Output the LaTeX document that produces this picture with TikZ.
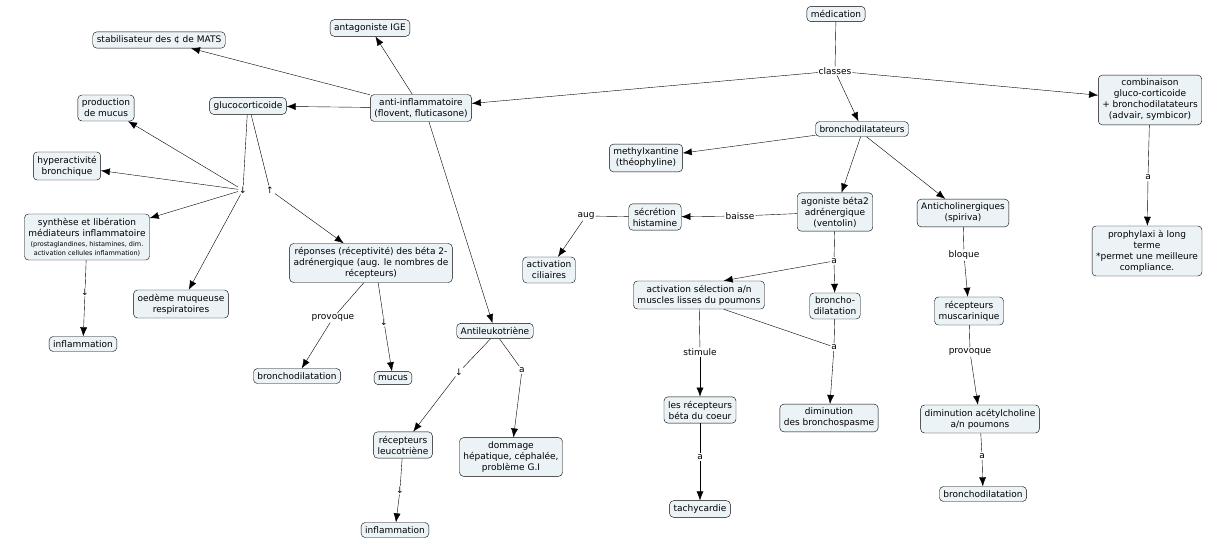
\documentclass[tikz,border=0pt]{standalone}
\usepackage{fontspec}
\setmainfont{DejaVu Sans}
\usetikzlibrary{arrows.meta}
\definecolor{conceptfill}{RGB}{236,243,246}
\tikzset{
  concept/.style={draw,rounded corners=4pt,fill=conceptfill,align=center,font=\fontsize{9}{11}\selectfont,inner sep=4pt},
  link/.style={fill=white,inner sep=1pt,font=\fontsize{9}{11}\selectfont},
  arr/.style={-{Latex[length=9pt,width=7pt]}},
}
\begin{document}
\begin{tikzpicture}[x=1pt,y=-1pt]
\useasboundingbox (0,0) rectangle (1226,546);
% concepts
\node at (159,40) [concept] (mats) {stabilisateur des ¢ de MATS};
\node at (370,28) [concept] (ige) {antagoniste IGE};
\node at (836,14) [concept] (medic) {médication};
\node at (1150,100) [concept] (combi) {combinaison\\gluco-corticoide\\+ bronchodilatateurs\\(advair, symbicor)};
\node at (106,108) [concept] (prodmucus) {production\\de mucus};
\node at (248,106) [concept] (gluco) {glucocorticoide};
\node at (421,108) [concept] (antiinf) {anti-inflammatoire\\(flovent, fluticasone)};
\node at (67,166) [concept] (hyper) {hyperactivité\\bronchique};
\node at (87,237) [concept] (synth) {synthèse et libération\\médiateurs inflammatoire\\[-1pt]{\fontsize{6.5}{8}\selectfont (prostaglandines, histamines, dim.}\\[-2pt]{\fontsize{6.5}{8}\selectfont activation cellules inflammation)}};
\node at (83,344) [concept] (inflA) {inflammation};
\node at (181,304) [concept] (oedeme) {oedème muqueuse\\respiratoires};
\node at (371,263) [concept] (reponses) {réponses (réceptivité) des béta 2-\\adrénergique (aug. le nombres de\\récepteurs)};
\node at (297,376) [concept] (bdA) {bronchodilatation};
\node at (393,378) [concept] (mucus) {mucus};
\node at (495,331) [concept] (antileu) {Antileukotriène};
\node at (403,445) [concept] (recleu) {récepteurs\\leucotriène};
\node at (395,530) [concept] (inflB) {inflammation};
\node at (511,457) [concept] (dommage) {dommage\\hépatique, céphalée,\\problème G.I};
\node at (862,129) [concept] (bronchod) {bronchodilatateurs};
\node at (646,158) [concept] (methyl) {methylxantine\\(théophyline)};
\node at (655,217) [concept] (secret) {sécrétion\\histamine};
\node at (549,270) [concept] (cili) {activation\\ciliaires};
\node at (835,212) [concept] (agon) {agoniste béta2\\adrénergique\\(ventolin)};
\node at (963,213) [concept] (antich) {Anticholinergiques\\(spiriva)};
\node at (699,295) [concept] (activ) {activation sélection a/n\\muscles lisses du poumons};
\node at (835,306) [concept] (bdB) {broncho-\\dilatation};
\node at (969,311) [concept] (muscar) {récepteurs\\muscarinique};
\node at (700,410) [concept] (coeur) {les récepteurs\\béta du coeur};
\node at (829,418) [concept] (spasme) {diminution\\des bronchospasme};
\node at (980,419) [concept] (acetyl) {diminution acétylcholine\\a/n poumons};
\node at (700,509) [concept] (tachy) {tachycardie};
\node at (983,494) [concept] (bdC) {bronchodilatation};
\node at (1147,251) [concept] (prophy) {prophylaxi à long\\terme\\*permet une meilleure\\compliance.};
% linking phrases
\node at (835,71) [link] (lclasses) {classes};
\node at (243,190) [link] (ldownG) {↓};
\node at (270,190) [link] (lupG) {↑};
\node at (85,292) [link] (ldownS) {↓};
\node at (333,318) [link] (lprovR) {provoque};
\node at (384,322) [link] (ldownR) {↓};
\node at (459,372) [link] (ldownL) {↓};
\node at (522,370) [link] (laL) {a};
\node at (400,490) [link] (ldownRL) {↓};
\node at (740,216) [link] (lbaisse) {baisse};
\node at (586,216) [link] (laug) {aug};
\node at (834,261) [link] (laAg) {a};
\node at (700,352) [link] (lstim) {stimule};
\node at (834,347) [link] (laBd) {a};
\node at (700,457) [link] (laC) {a};
\node at (964,255) [link] (lbloque) {bloque};
\node at (970,352) [link] (lprovM) {provoque};
\node at (982,456) [link] (laAc) {a};
\node at (1148,177) [link] (laCo) {a};
% connectors
\draw (medic) -- (lclasses);
\draw[arr] (lclasses) -- (antiinf);
\draw[arr] (lclasses) -- (bronchod);
\draw[arr] (lclasses) -- (combi);
\draw[arr] (antiinf) -- (mats);
\draw[arr] (antiinf) -- (ige);
\draw[arr] (antiinf) -- (gluco);
\draw[arr] (antiinf.300) -- (antileu);
\draw (gluco.265) -- (ldownG);
\draw[arr] (ldownG) -- (prodmucus);
\draw[arr] (ldownG) -- (hyper);
\draw[arr] (ldownG) -- (synth);
\draw[arr] (ldownG) -- (oedeme);
\draw (gluco.290) -- (lupG);
\draw[arr] (lupG) -- (reponses);
\draw (synth) -- (ldownS);
\draw[arr] (ldownS) -- (inflA);
\draw (reponses.250) -- (lprovR);
\draw[arr] (lprovR) -- (bdA);
\draw (reponses.290) -- (ldownR);
\draw[arr] (ldownR) -- (mucus);
\draw (antileu.240) -- (ldownL);
\draw[arr] (ldownL) -- (recleu);
\draw (antileu.300) -- (laL);
\draw[arr] (laL) -- (dommage);
\draw (recleu) -- (ldownRL);
\draw[arr] (ldownRL) -- (inflB);
\draw[arr] (bronchod) -- (methyl);
\draw[arr] (bronchod.260) -- (agon);
\draw[arr] (bronchod.300) -- (antich);
\draw (agon) -- (lbaisse);
\draw[arr] (lbaisse) -- (secret);
\draw (secret) -- (laug);
\draw[arr] (laug) -- (cili);
\draw (agon) -- (laAg);
\draw[arr] (laAg) -- (activ.30);
\draw[arr] (laAg) -- (bdB);
\draw (activ) -- (lstim);
\draw[arr] (lstim) -- (coeur);
\draw (activ.330) -- (laBd);
\draw (bdB) -- (laBd);
\draw[arr] (laBd) -- (spasme);
\draw (coeur) -- (laC);
\draw[arr] (laC) -- (tachy);
\draw (antich) -- (lbloque);
\draw[arr] (lbloque) -- (muscar);
\draw (muscar) -- (lprovM);
\draw[arr] (lprovM) -- (acetyl);
\draw (acetyl) -- (laAc);
\draw[arr] (laAc) -- (bdC);
\draw (combi) -- (laCo);
\draw[arr] (laCo) -- (prophy);
\end{tikzpicture}
\end{document}
